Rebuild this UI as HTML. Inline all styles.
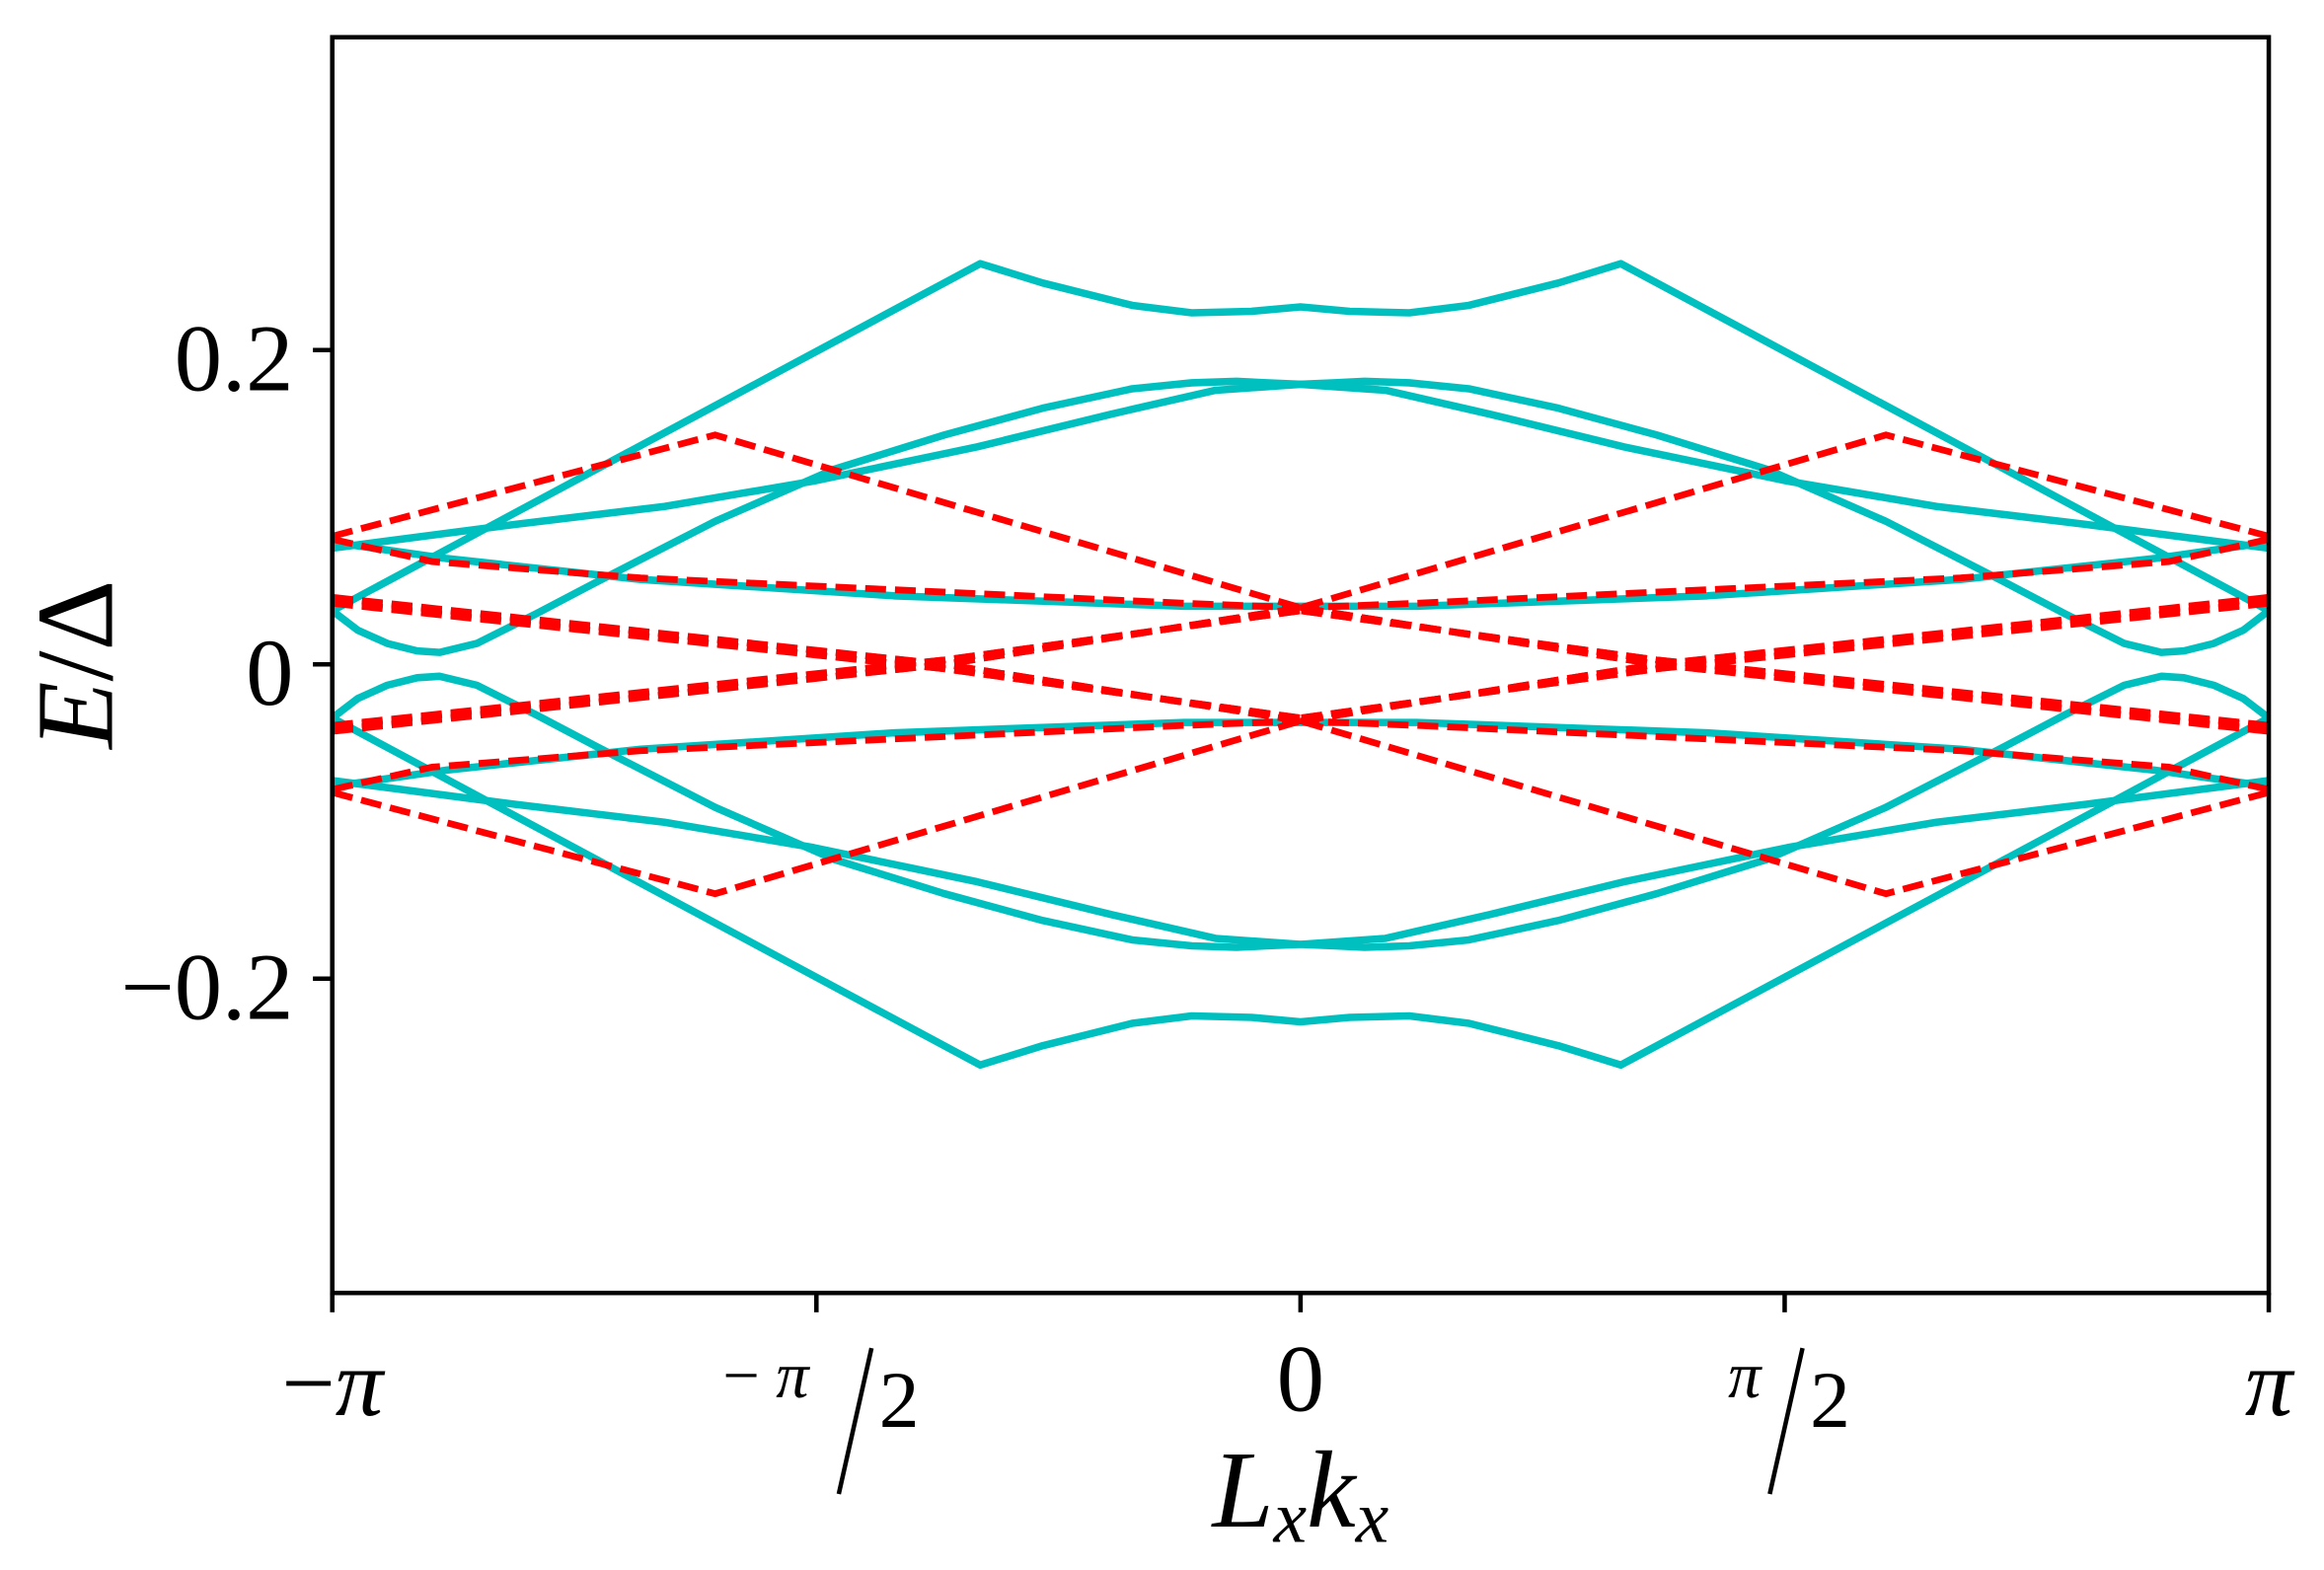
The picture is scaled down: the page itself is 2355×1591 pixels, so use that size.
<!DOCTYPE html>
<html><head><meta charset="utf-8"><style>html,body{margin:0;padding:0;background:#fff}svg{display:block}</style></head>
<body>
<svg width="2355" height="1591" viewBox="0 0 1560 1054" xmlns="http://www.w3.org/2000/svg">
<defs>
<clipPath id="c"><rect x="223" y="25" width="1300" height="843"/></clipPath>
<g id="cy" fill="none" stroke="#00bfbf" stroke-width="5" stroke-linejoin="round">
<polyline points="223,410 658,177 700,190 760,205 800,210 840,209 873,206 906,209 946,210 986,205 1046,190 1088,177 1523,410"/>
<polyline points="223,410 240,423 260,432 280,437 295,438 320,432 360,412 400,391 480,350 560,315 634,292 700,274 760,261 800,257 830,256 850,257 873,258 930,262 1000,278 1090,300 1200,323 1300,340 1400,352 1523,368"/>
<polyline points="1523,410 1506,423 1486,432 1466,437 1451,438 1426,432 1386,412 1346,391 1266,350 1186,315 1112,292 1046,274 986,261 946,257 916,256 896,257 873,258 816,262 746,278 656,300 546,323 446,340 346,352 223,368"/>
<polyline points="223,364 300,375 430,389 600,400 795,407 873,407 951,407 1146,400 1316,389 1446,375 1523,364"/>
</g>
<g id="rd" fill="none" stroke="#ff0000" stroke-width="4.5" stroke-dasharray="14,6">
<polyline points="223,360 480,292 873,408"/>
<polyline points="223,362 290,377 430,388 795,405 873,408"/>
<polyline points="223,402 634,446 873,484"/>
<polyline points="223,405 634,449 873,482"/>
<polyline points="223,491 634,446 873,408"/>
<polyline points="223,488 634,443 873,410"/>
</g>
</defs>
<g clip-path="url(#c)">
<use href="#cy"/>
<use href="#cy" transform="translate(0,892) scale(1,-1)"/>
<use href="#rd"/>
<use href="#rd" transform="translate(0,892) scale(1,-1)"/>
<use href="#rd" transform="translate(1746,0) scale(-1,1)"/>
<use href="#rd" transform="translate(1746,892) scale(-1,-1)"/>
</g>
<rect x="223" y="25" width="1300" height="843" fill="none" stroke="#000" stroke-width="3"/>
<g stroke="#000" stroke-width="3">
<line x1="223" y1="868" x2="223" y2="881"/><line x1="548" y1="868" x2="548" y2="881"/>
<line x1="873" y1="868" x2="873" y2="881"/><line x1="1198" y1="868" x2="1198" y2="881"/>
<line x1="1523" y1="868" x2="1523" y2="881"/>
<line x1="210" y1="235" x2="223" y2="235"/><line x1="210" y1="446" x2="223" y2="446"/>
<line x1="210" y1="657" x2="223" y2="657"/>
</g>
<g font-family="Liberation Serif, serif" font-size="64" fill="#000">
<text x="197" y="262" text-anchor="end">0.2</text>
<text x="197" y="473" text-anchor="end">0</text>
<text x="197" y="684" text-anchor="end">−0.2</text>
<text x="223" y="950" text-anchor="middle">−<tspan font-style="italic">π</tspan></text>
<text x="873" y="947" text-anchor="middle">0</text>
<text x="1523" y="950" text-anchor="middle" font-style="italic">π</text>
<text x="485" y="938" font-size="44">− <tspan font-style="italic">π</tspan></text>
<line x1="585" y1="905" x2="563" y2="1003" stroke="#000" stroke-width="3"/>
<text x="590" y="958" font-size="54">2</text>
<text x="1160" y="938" font-size="44" font-style="italic">π</text>
<line x1="1210" y1="905" x2="1188" y2="1003" stroke="#000" stroke-width="3"/>
<text x="1215" y="958" font-size="54">2</text>
<text x="873" y="1025" text-anchor="middle" font-size="74" font-style="italic">L<tspan font-size="50" dy="10">x</tspan><tspan dy="-10">k</tspan><tspan font-size="50" dy="10">x</tspan></text>
<text transform="translate(75,446) rotate(-90)" text-anchor="middle" font-size="74" font-style="italic">E<tspan font-style="normal">/Δ</tspan></text>
</g>
</svg>
</body></html>
